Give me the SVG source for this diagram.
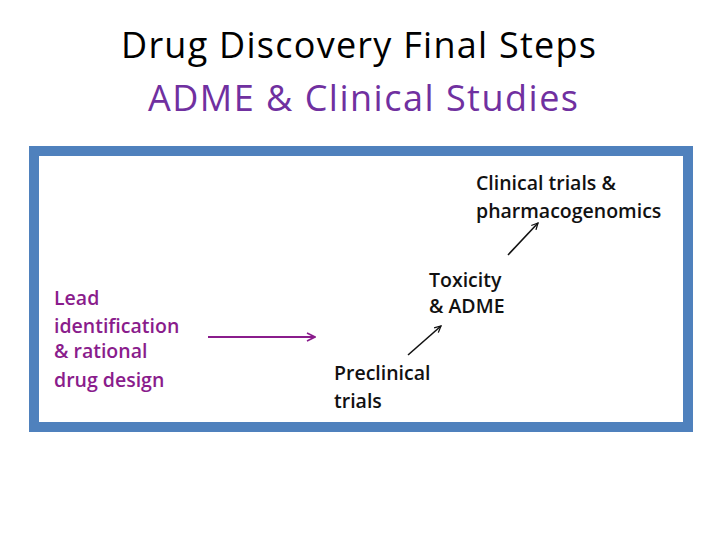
<svg xmlns="http://www.w3.org/2000/svg" width="728" height="546" viewBox="0 0 728 546">
<style>
.t{font-family:"Open Sans","Liberation Sans",sans-serif}
.lb{font-family:"Open Sans","Liberation Sans",sans-serif;font-size:19.5px;font-weight:600;fill:#111}
.pu{fill:#8a1c8c}
</style>
<defs>
<marker id="ab" viewBox="0 0 10 10" refX="9" refY="5" markerWidth="8" markerHeight="8" orient="auto" markerUnits="userSpaceOnUse"><path d="M1,1 L9,5 L1,9" fill="none" stroke="#111" stroke-width="1.6"/></marker>
<marker id="ap" viewBox="0 0 10 10" refX="9" refY="5" markerWidth="10" markerHeight="10" orient="auto" markerUnits="userSpaceOnUse"><path d="M1,1 L9,5 L1,9" fill="none" stroke="#8a1c8c" stroke-width="1.6"/></marker>
</defs>
<rect width="728" height="546" fill="#fff"/>
<text class="t" x="121" y="58" font-size="36" fill="#000" textLength="475">Drug Discovery Final Steps</text>
<text class="t" x="148" y="111" font-size="36" fill="#7030a0" textLength="430">ADME &amp; Clinical Studies</text>
<rect x="34" y="151" width="654" height="276" fill="#fff" stroke="#4f81bd" stroke-width="10"/>
<g id="lead"><text class="lb pu" x="54" y="305">Lead</text><text class="lb pu" x="54" y="333">identification</text><text class="lb pu" x="54" y="358">&amp; rational</text><text class="lb pu" x="54" y="387">drug design</text></g>
<g id="preclinical"><text class="lb" x="334" y="380">Preclinical</text><text class="lb" x="334" y="408">trials</text></g>
<g id="toxicity"><text class="lb" x="429" y="287">Toxicity</text><text class="lb" x="429" y="313">&amp; ADME</text></g>
<g id="clinical"><text class="lb" x="476" y="190">Clinical trials &amp;</text><text class="lb" x="476" y="218">pharmacogenomics</text></g>
<g id="connectors" fill="none">
<line x1="208" y1="337" x2="315" y2="337" stroke="#8a1c8c" stroke-width="2" marker-end="url(#ap)"/>
<line x1="408" y1="355" x2="441" y2="326" stroke="#111" stroke-width="1.6" marker-end="url(#ab)"/>
<line x1="508" y1="255" x2="538" y2="223" stroke="#111" stroke-width="1.6" marker-end="url(#ab)"/>
</g>
</svg>
